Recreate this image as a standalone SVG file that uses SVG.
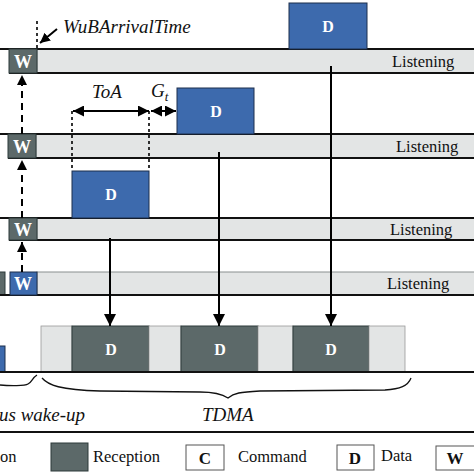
<svg xmlns="http://www.w3.org/2000/svg" width="474" height="474" viewBox="0 0 474 474">
<defs>
<marker id="ah" viewBox="0 0 10 10" refX="10" refY="5" markerWidth="10" markerHeight="10" markerUnits="userSpaceOnUse" orient="auto"><path d="M0,0 L10,5 L0,10 Z" fill="#000"/></marker>
<marker id="ahb" viewBox="0 0 12 12" refX="12" refY="6" markerWidth="12" markerHeight="12" markerUnits="userSpaceOnUse" orient="auto"><path d="M0,0 L12,6 L0,12 Z" fill="#000"/></marker>
<marker id="ahs" viewBox="0 0 10 10" refX="10" refY="5" markerWidth="11" markerHeight="11" markerUnits="userSpaceOnUse" orient="auto-start-reverse"><path d="M0,0 L10,5 L0,10 Z" fill="#000"/></marker>
</defs>
<style>
.bar{fill:#e3e5e5;stroke:#8a8f8f;stroke-width:1}
.rx{fill:#5c6969;stroke:#2c3a3a;stroke-width:1}
.tx{fill:#3d6aad;stroke:#1d2f4d;stroke-width:1}
.lt{fill:#e3e5e5;stroke:#999;stroke-width:0.8}
.wb{fill:#fff;stroke:#555;stroke-width:1}
.hl{stroke:#111;stroke-width:2;fill:none}
.lab{font-family:"Liberation Serif","Times New Roman",serif;font-weight:bold;fill:#fff;text-anchor:middle;font-size:16px}
.labw{font-family:"Liberation Serif","Times New Roman",serif;font-weight:bold;fill:#fff;text-anchor:middle;font-size:18px}
.labk{font-family:"Liberation Serif","Times New Roman",serif;font-weight:bold;fill:#111;text-anchor:middle;font-size:17px}
.txt{font-family:"Liberation Serif","Times New Roman",serif;fill:#111;font-size:16.5px}
.it{font-family:"Liberation Serif","Times New Roman",serif;font-style:italic;fill:#111;font-size:19px}
.ln{stroke:#000;stroke-width:2;fill:none}
.dash{stroke:#000;stroke-width:2;fill:none;stroke-dasharray:7,5}
.dot{stroke:#000;stroke-width:1.6;fill:none;stroke-dasharray:3,3}
</style>

<g id="row1">
<rect class="bar" x="37" y="49" width="440" height="24"/>
<line class="hl" x1="0" y1="49" x2="474" y2="49"/>
<line class="hl" x1="9" y1="73" x2="474" y2="73"/>
<rect class="rx" x="9" y="49" width="28" height="24"/>
<text class="labw" x="23" y="68">W</text>
<text class="txt" x="392" y="67">Listening</text>
</g>
<g id="row1-data">
<rect class="tx" x="289" y="3" width="78" height="46"/>
<text class="lab" x="328" y="32">D</text>
</g>

<g id="row2">
<rect class="bar" x="36" y="134" width="440" height="24"/>
<line class="hl" x1="0" y1="134" x2="474" y2="134"/>
<line class="hl" x1="8" y1="158" x2="474" y2="158"/>
<rect class="rx" x="8" y="134" width="28" height="24"/>
<text class="labw" x="22" y="153">W</text>
<text class="txt" x="396" y="152">Listening</text>
</g>
<g id="row2-data">
<rect class="tx" x="177" y="88" width="77" height="46"/>
<text class="lab" x="216" y="117">D</text>
</g>

<g id="row3">
<rect class="bar" x="37" y="218" width="440" height="22"/>
<line class="hl" x1="0" y1="218" x2="474" y2="218"/>
<line class="hl" x1="9" y1="240" x2="474" y2="240"/>
<rect class="rx" x="9" y="218" width="28" height="22"/>
<text class="labw" x="23" y="236">W</text>
<text class="txt" x="390" y="235">Listening</text>
</g>
<g id="row3-data">
<rect class="tx" x="72" y="171" width="77" height="47"/>
<text class="lab" x="111" y="200">D</text>
</g>

<g id="row4">
<rect class="bar" x="37" y="272" width="440" height="23"/>
<rect class="rx" x="-2" y="272" width="7" height="23"/>
<line class="hl" x1="0" y1="295" x2="474" y2="295"/>
<rect class="tx" x="10" y="272" width="27" height="23"/>
<text class="labw" x="23" y="290">W</text>
<text class="txt" x="387" y="289">Listening</text>
</g>

<g id="tdma">
<rect class="tx" x="-2" y="346" width="7" height="26"/>
<rect class="lt" x="41" y="326" width="31" height="46"/>
<rect class="rx" x="72" y="326" width="77" height="46"/>
<text class="lab" x="111" y="355">D</text>
<rect class="lt" x="149" y="326" width="32" height="46"/>
<rect class="rx" x="181" y="326" width="77" height="46"/>
<text class="lab" x="220" y="355">D</text>
<rect class="lt" x="258" y="326" width="35" height="46"/>
<rect class="rx" x="293" y="326" width="76" height="46"/>
<text class="lab" x="331" y="355">D</text>
<rect class="lt" x="369" y="326" width="36" height="46"/>
<line class="hl" x1="0" y1="372" x2="474" y2="372"/>
</g>

<g id="braces">
<path d="M0,385 C10,386 25,386 28,384 C32,382 32,378 37,375" stroke="#111" stroke-width="1.3" fill="none"/>
<path d="M42,378 C48,385 60,390 100,391 L200,392 C215,392 222,394 228,398 C234,393 240,392 260,391 L385,390 C400,389 408,386 411,378" stroke="#111" stroke-width="1.3" fill="none"/>
<text class="it" x="-1" y="421">us wake-up</text>
<text class="it" x="202" y="421">TDMA</text>
<line class="hl" x1="0" y1="432" x2="474" y2="432"/>
</g>

<g id="legend">
<text class="txt" x="0" y="462">on</text>
<rect class="rx" x="51" y="443" width="37" height="28"/>
<text class="txt" x="93" y="462">Reception</text>
<rect class="wb" x="186" y="445" width="38" height="25"/>
<text class="labk" x="205" y="464">C</text>
<text class="txt" x="238" y="462">Command</text>
<rect class="wb" x="337" y="445" width="37" height="25"/>
<text class="labk" x="355" y="464">D</text>
<text class="txt" x="381" y="461">Data</text>
<rect class="wb" x="436" y="446" width="42" height="24"/>
<text class="labk" x="455" y="464">W</text>
</g>

<g id="annotations">
<line class="dot" x1="37" y1="21" x2="37" y2="49"/>
<line class="ln" x1="57" y1="29" x2="40" y2="43" marker-end="url(#ah)"/>
<text class="it" x="63" y="33">WuBArrivalTime</text>
<line class="dot" x1="72" y1="111" x2="72" y2="171"/>
<line class="dot" x1="149" y1="111" x2="149" y2="171"/>
<line class="ln" x1="73" y1="111" x2="149" y2="111" marker-start="url(#ahs)" marker-end="url(#ahs)"/>
<line class="ln" x1="151" y1="111" x2="176" y2="111" marker-start="url(#ahs)" marker-end="url(#ahs)"/>
<text class="it" x="92" y="98">ToA</text>
<text class="it" x="151" y="97">G<tspan font-size="13" dy="4">t</tspan></text>
</g>

<g id="connectors">
<line class="dash" x1="22" y1="272" x2="22" y2="242" marker-end="url(#ah)"/>
<line class="dash" x1="22" y1="218" x2="22" y2="160" marker-end="url(#ah)"/>
<line class="dash" x1="22" y1="134" x2="22" y2="75" marker-end="url(#ah)"/>
<line class="ln" x1="110" y1="238" x2="110" y2="326" marker-end="url(#ahb)"/>
<line class="ln" x1="219" y1="152" x2="219" y2="326" marker-end="url(#ahb)"/>
<line class="ln" x1="331" y1="66" x2="331" y2="326" marker-end="url(#ahb)"/>
</g>
</svg>
